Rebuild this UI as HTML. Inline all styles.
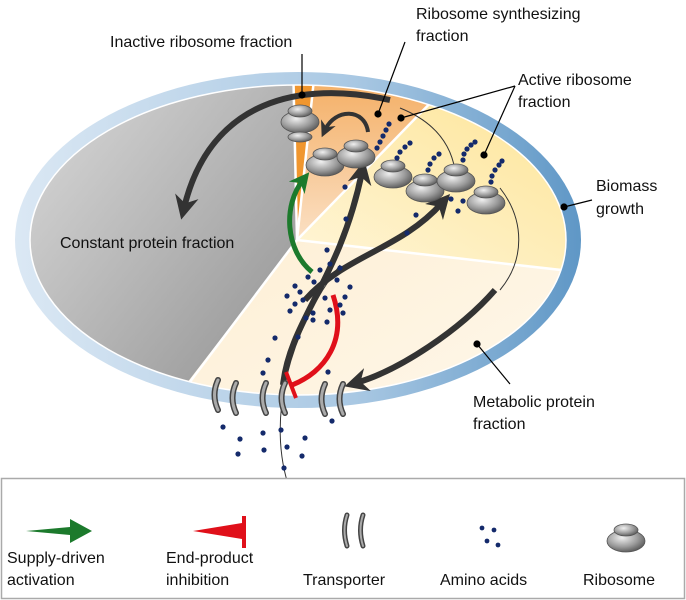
<!DOCTYPE html>
<html><head><meta charset="utf-8"><style>
html,body{margin:0;padding:0;background:#fff;}
svg{display:block;font-family:"Liberation Sans",Arial,sans-serif;}
</style></head><body>
<svg width="686" height="600" viewBox="0 0 686 600" xmlns="http://www.w3.org/2000/svg">
<defs>
<linearGradient id="mem" x1="0" x2="1" y1="0" y2="0">
<stop offset="0" stop-color="#dbe8f4"/><stop offset="0.6" stop-color="#a9c8e3"/><stop offset="1" stop-color="#5f97c6"/></linearGradient>
<linearGradient id="gray" x1="0" x2="1" y1="0" y2="1">
<stop offset="0" stop-color="#e2e2e2"/><stop offset="1" stop-color="#8a8a8a"/></linearGradient>
<linearGradient id="org" x1="0" x2="0" y1="0" y2="1">
<stop offset="0" stop-color="#f3a95a"/><stop offset="1" stop-color="#fbe0c4"/></linearGradient>
<linearGradient id="yel" x1="0" x2="1" y1="1" y2="0">
<stop offset="0" stop-color="#fff6da"/><stop offset="1" stop-color="#fddf82"/></linearGradient>
<linearGradient id="met" x1="0" x2="1" y1="0" y2="1">
<stop offset="0" stop-color="#fde9c4"/><stop offset="1" stop-color="#fffaf2"/></linearGradient>
<radialGradient id="rib" cx="0.4" cy="0.35" r="0.7"><stop offset="0" stop-color="#f0f0f0"/><stop offset="0.6" stop-color="#9a9a9a"/><stop offset="1" stop-color="#555"/></radialGradient>
<clipPath id="cell"><ellipse cx="298" cy="240" rx="268" ry="155"/></clipPath>
<marker id="ah" viewBox="0 0 10 10" refX="5" refY="5" markerWidth="4" markerHeight="4" orient="auto"><path d="M0,0 L10,5 L0,10 L3,5z" fill="#333"/></marker>
<marker id="ag" viewBox="0 0 10 10" refX="5" refY="5" markerWidth="4" markerHeight="4" orient="auto"><path d="M0,0 L10,5 L0,10 L3,5z" fill="#1c7a2c"/></marker>
<g id="R"><ellipse cx="0" cy="5" rx="19" ry="11" fill="url(#rib)" stroke="#555" stroke-width="0.8"/><ellipse cx="0" cy="-6" rx="12" ry="6" fill="url(#rib)" stroke="#555" stroke-width="0.8"/></g>
<g id="T"><path d="M0,0 q-7,15 0,30" fill="none" stroke="#444" stroke-width="6" stroke-linecap="round"/><path d="M0,0 q-7,15 0,30" fill="none" stroke="#aaa" stroke-width="3" stroke-linecap="round"/></g>
</defs>
<ellipse cx="298" cy="240" rx="283" ry="168" fill="url(#mem)"/>
<g clip-path="url(#cell)">
<rect x="0" y="60" width="700" height="400" fill="url(#met)"/>
<polygon points="297,240 293,60 -10,60 -10,460 170,405" fill="url(#gray)"/>
<polygon points="297,240 293,60 316,60" fill="#f0962e"/>
<polygon points="297,240 316,60 470,60 413,120" fill="url(#org)"/>
<polygon points="297,240 413,120 470,60 700,60 700,280 552,270" fill="url(#yel)"/>
<g stroke="#fff" stroke-width="2.5" fill="none">
<path d="M297,240 L293,60"/><path d="M297,240 L316,60"/><path d="M297,240 L440,93"/><path d="M297,240 L570,271"/><path d="M297,240 L180,395"/></g>
</g>
<ellipse cx="298" cy="240" rx="268" ry="155" fill="none" stroke="#fff" stroke-width="1.5"/>
<g fill="none" stroke="#333" stroke-width="1">
<path d="M290,490 C265,420 290,330 340,265"/>
<path d="M400,108 C430,120 450,140 455,170"/>
<path d="M500,188 C525,220 525,260 500,290"/>
</g>
<g fill="none" stroke="#333" stroke-width="6">
<path d="M390,100 C300,80 210,100 184,208" marker-end="url(#ah)"/>
<path d="M368,132 C365,108 335,108 325,130" stroke-width="4" marker-end="url(#ah)"/>
<path d="M283,385 C290,320 340,280 362,172" marker-end="url(#ah)"/>
<path d="M305,300 C345,255 400,250 442,203" marker-end="url(#ah)"/>
<path d="M495,290 C460,330 400,370 356,383" marker-end="url(#ah)"/>
</g>
<path d="M312,272 C285,250 283,205 303,180" fill="none" stroke="#1c7a2c" stroke-width="5" marker-end="url(#ag)"/>
<path d="M333,295 C348,340 325,372 292,385" fill="none" stroke="#e0101a" stroke-width="5"/>
<path d="M286,372 L296,398" stroke="#e0101a" stroke-width="4"/>
<use href="#R" x="300" y="117"/>
<ellipse cx="300" cy="137" rx="12" ry="5" fill="url(#rib)" stroke="#555" stroke-width="0.8"/>
<use href="#R" x="325" y="160"/><use href="#R" x="356" y="152"/>
<use href="#R" x="393" y="172"/><use href="#R" x="425" y="186"/>
<use href="#R" x="456" y="176"/><use href="#R" x="486" y="198"/>
<g fill="#142a6b">
<circle cx="377" cy="148" r="2.6"/><circle cx="380" cy="142" r="2.6"/><circle cx="383" cy="136" r="2.6"/><circle cx="386" cy="130" r="2.6"/><circle cx="389" cy="124" r="2.6"/>
<circle cx="397" cy="158" r="2.6"/><circle cx="400" cy="152" r="2.6"/><circle cx="405" cy="147" r="2.6"/><circle cx="410" cy="143" r="2.6"/>
<circle cx="428" cy="170" r="2.6"/><circle cx="430" cy="164" r="2.6"/><circle cx="434" cy="158" r="2.6"/><circle cx="439" cy="154" r="2.6"/>
<circle cx="463" cy="160" r="2.6"/><circle cx="464" cy="154" r="2.6"/><circle cx="467" cy="149" r="2.6"/><circle cx="471" cy="145" r="2.6"/><circle cx="475" cy="142" r="2.6"/>
<circle cx="491" cy="182" r="2.6"/><circle cx="492" cy="176" r="2.6"/><circle cx="495" cy="170" r="2.6"/><circle cx="499" cy="165" r="2.6"/><circle cx="502" cy="161" r="2.6"/>
<circle cx="345" cy="187" r="2.6"/><circle cx="346" cy="219" r="2.6"/><circle cx="416" cy="215" r="2.6"/><circle cx="407" cy="233" r="2.6"/><circle cx="451" cy="199" r="2.6"/><circle cx="463" cy="201" r="2.6"/><circle cx="458" cy="211" r="2.6"/>
<circle cx="327" cy="250" r="2.6"/><circle cx="330" cy="264" r="2.6"/><circle cx="320" cy="270" r="2.6"/><circle cx="308" cy="277" r="2.6"/><circle cx="314" cy="282" r="2.6"/><circle cx="295" cy="286" r="2.6"/><circle cx="300" cy="292" r="2.6"/><circle cx="287" cy="296" r="2.6"/><circle cx="295" cy="304" r="2.6"/><circle cx="303" cy="300" r="2.6"/><circle cx="290" cy="311" r="2.6"/><circle cx="313" cy="313" r="2.6"/><circle cx="306" cy="318" r="2.6"/><circle cx="325" cy="298" r="2.6"/><circle cx="340" cy="268" r="2.6"/><circle cx="337" cy="280" r="2.6"/><circle cx="350" cy="287" r="2.6"/><circle cx="345" cy="297" r="2.6"/><circle cx="340" cy="305" r="2.6"/><circle cx="327" cy="322" r="2.6"/><circle cx="313" cy="320" r="2.6"/><circle cx="343" cy="313" r="2.6"/><circle cx="330" cy="310" r="2.6"/>
<circle cx="275" cy="338" r="2.6"/><circle cx="298" cy="337" r="2.6"/><circle cx="268" cy="360" r="2.6"/><circle cx="263" cy="373" r="2.6"/><circle cx="328" cy="372" r="2.6"/>
<circle cx="223" cy="427" r="2.6"/><circle cx="240" cy="439" r="2.6"/><circle cx="238" cy="454" r="2.6"/><circle cx="263" cy="433" r="2.6"/><circle cx="264" cy="450" r="2.6"/><circle cx="281" cy="430" r="2.6"/><circle cx="287" cy="447" r="2.6"/><circle cx="305" cy="438" r="2.6"/><circle cx="302" cy="456" r="2.6"/><circle cx="284" cy="468" r="2.6"/><circle cx="332" cy="421" r="2.6"/>
</g>
<use href="#T" x="218" y="380"/><use href="#T" x="236" y="383"/>
<use href="#T" x="266" y="383"/><use href="#T" x="285" y="383"/>
<use href="#T" x="325" y="384"/><use href="#T" x="343" y="384"/>
<g stroke="#000" stroke-width="1.2" fill="#000">
<path d="M302,54 L302,95"/><circle cx="302" cy="95" r="3"/>
<path d="M405,42 L378,114"/><circle cx="378" cy="114" r="3"/>
<path d="M515,86 L401,118"/><circle cx="401" cy="118" r="3"/>
<path d="M515,86 L484,155"/><circle cx="484" cy="155" r="3"/>
<path d="M592,200 L564,207"/><circle cx="564" cy="207" r="3"/>
<path d="M510,384 L477,344"/><circle cx="477" cy="344" r="3"/>
</g>
<g font-size="16" fill="#111">
<text x="110" y="47">Inactive ribosome fraction</text>
<text x="416" y="19">Ribosome synthesizing</text><text x="416" y="41">fraction</text>
<text x="518" y="85">Active ribosome</text><text x="518" y="107">fraction</text>
<text x="596" y="191">Biomass</text><text x="596" y="214">growth</text>
<text x="60" y="248">Constant protein fraction</text>
<text x="473" y="407">Metabolic protein</text><text x="473" y="429">fraction</text>
</g>
<rect x="1.5" y="478.5" width="683" height="120" fill="#fff" stroke="#aaa" stroke-width="1.5"/>
<polygon points="26,531 70,527 70,519 92,531 70,543 70,535" fill="#1c7a2c"/>
<polygon points="193,531 242,523 242,539" fill="#e0101a"/>
<rect x="242" y="516" width="4" height="32" fill="#e0101a"/>
<path d="M347,515 q-5,15 0,31" fill="none" stroke="#444" stroke-width="5" stroke-linecap="round"/>
<path d="M347,515 q-5,15 0,31" fill="none" stroke="#aaa" stroke-width="2" stroke-linecap="round"/>
<path d="M363,515 q-5,15 0,31" fill="none" stroke="#444" stroke-width="5" stroke-linecap="round"/>
<path d="M363,515 q-5,15 0,31" fill="none" stroke="#aaa" stroke-width="2" stroke-linecap="round"/>
<g fill="#142a6b"><circle cx="482" cy="528" r="2.4"/><circle cx="494" cy="530" r="2.4"/><circle cx="487" cy="541" r="2.4"/><circle cx="498" cy="545" r="2.4"/></g>
<use href="#R" x="626" y="536"/>
<g font-size="16" fill="#111">
<text x="7" y="563">Supply-driven</text><text x="7" y="585">activation</text>
<text x="166" y="563">End-product</text><text x="166" y="585">inhibition</text>
<text x="303" y="585">Transporter</text>
<text x="440" y="585">Amino acids</text>
<text x="583" y="585">Ribosome</text>
</g>
</svg>
</body></html>
